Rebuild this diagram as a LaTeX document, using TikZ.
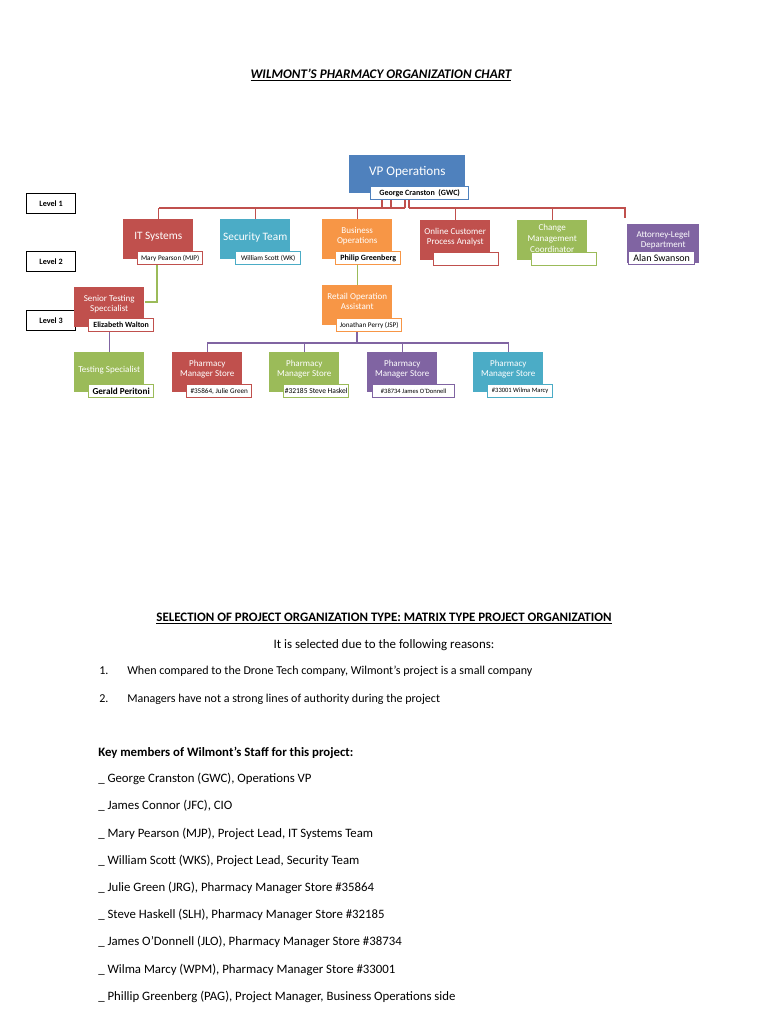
\documentclass[tikz,border=0pt]{standalone}
\usepackage{fontspec}
\setmainfont{Carlito}
\definecolor{cred}{HTML}{C0504D}
\definecolor{cblue}{HTML}{4F81BD}
\definecolor{cteal}{HTML}{4BACC6}
\definecolor{corange}{HTML}{F79646}
\definecolor{cgreen}{HTML}{9BBB59}
\definecolor{cpurple}{HTML}{8064A2}
\def\u{0.797pt}
\tikzset{
  box/.style={fill=#1, anchor=north west, minimum width=70*\u, minimum height=40*\u,
    text=white, align=center, inner sep=1pt, font=\fontsize{7.2}{8.4}\selectfont},
  sub/.style={draw=#1, fill=white, line width=1.1pt, anchor=north west, minimum width=65*\u,
    minimum height=13*\u, inner sep=0.5pt, font=\fontsize{5.7}{6}\selectfont},
  lvl/.style={draw=black, line width=0.8pt, fill=white, anchor=north west, minimum width=49*\u,
    minimum height=20*\u, inner sep=0pt, font=\bfseries\fontsize{6.5}{7}\selectfont},
  rl/.style={draw=cred, line width=1.1pt},
  gl/.style={draw=cgreen, line width=1.1pt},
  pl/.style={draw=cpurple, line width=1.1pt},
  txt/.style={anchor=base west, inner sep=0pt, font=\fontsize{10.2}{12}\selectfont},
  ctxt/.style={anchor=base, inner sep=0pt, font=\fontsize{10.3}{12}\selectfont}
}
\begin{document}
\begin{tikzpicture}[x=0.797pt,y=-0.797pt]
\useasboundingbox (0,0) rectangle (768,1024);
\fill[white] (0,0) rectangle (768,1024);

\node[ctxt, font=\fontsize{10.5}{12}\selectfont] (title) at (381,78) {\bfseries\itshape\underline{WILMONT’S PHARMACY ORGANIZATION CHART}};

% level labels
\node[lvl] (l1) at (26,193) {Level 1};
\node[lvl] (l2) at (26,251) {Level 2};
\node[lvl] (l3) at (26,310) {Level 3};

% VP
\node[box=cblue, minimum width=116*\u, minimum height=38*\u, font=\fontsize{10.5}{12}\selectfont, text depth=6pt] (vp) at (349,155) {VP Operations};
\node[sub=cblue, minimum width=98*\u, font=\bfseries\fontsize{6.4}{7}\selectfont] (vpn) at (370,186) {George Cranston\ \ (GWC)};

% level 2
\node[box=cred, font=\fontsize{9}{10}\selectfont, text depth=5pt] (it) at (123,219) {IT Systems};
\node[sub=cred] (itn) at (137,251) {Mary Pearson (MJP)};
\node[box=cteal, font=\fontsize{9}{10}\selectfont, text depth=5pt] (sec) at (220,219) {Security Team};
\node[sub=cteal] (secn) at (235,251) {William Scott (WK)};
\node[box=corange, text depth=6pt] (bus) at (322,219) {Business\\Operations};
\node[sub=corange, font=\bfseries\fontsize{6.4}{7}\selectfont] (busn) at (335,251) {Philip Greenberg};
\node[box=cred, text depth=6pt] (onl) at (420,220) {Online Customer\\Process Analyst};
\node[sub=cred] (onln) at (433,252) {};
\node[box=cgreen, text depth=3pt, font=\fontsize{7.2}{8.8}\selectfont] (chg) at (517,220) {Change\\Management\\Coordinator};
\node[sub=cgreen] (chgn) at (531,252) {};
\node[box=cpurple, minimum width=72*\u, minimum height=39*\u, text depth=7pt] (att) at (627,224) {Attorney-Legel\\Department};
\node[sub=cpurple, minimum width=66*\u, font=\fontsize{8}{8}\selectfont] (attn) at (628,251) {Alan Swanson};

% level 3
\node[box=cred, text depth=6pt] (sts) at (74,287) {Senior Testing\\Speccialist};
\node[sub=cred, font=\bfseries\fontsize{6.3}{7}\selectfont] (stsn) at (88,318) {Elizabeth Walton};
\node[box=corange, text depth=6pt] (ret) at (322,285) {Retail Operation\\Assistant};
\node[sub=corange] (retn) at (336,318) {Jonathan Perry (JSP)};

% level 4
\node[box=cgreen, text depth=5pt] (ts) at (74,352) {Testing Specialist};
\node[sub=cgreen, font=\bfseries\fontsize{7.3}{8}\selectfont] (tsn) at (88,384) {Gerald Peritoni};
\node[box=cred, text depth=6pt] (p1) at (172,352) {Pharmacy\\Manager Store};
\node[sub=cred] (p1n) at (186,384) {\#35864, Julie Green};
\node[box=cgreen, text depth=6pt] (p2) at (269,352) {Pharmacy\\Manager Store};
\node[sub=cgreen, font=\fontsize{6}{6}\selectfont] (p2n) at (283,384) {\#32185 Steve Haskel};
\node[box=cpurple, text depth=6pt] (p3) at (367,352) {Pharmacy\\Manager Store};
\node[sub=cpurple, minimum width=82*\u, font=\fontsize{5.2}{6}\selectfont] (p3n) at (372,384) {\#38734 James O’Donnell};
\node[box=cteal, text depth=6pt] (p4) at (473,352) {Pharmacy\\Manager Store};
\node[sub=cteal, font=\fontsize{5.2}{6}\selectfont] (p4n) at (487,384) {\#33001 Wilma Marcy};

% VP connectors
\coordinate (busL) at (159,208);
\coordinate (busR) at (625,208);
\coordinate (attd) at (625,218);
\draw[rl] (busL) -- (405,208);
\draw[rl] (409,208) -- (busR) -- (attd);
\foreach \xx in {382,391,405,409} \draw[rl] (vpn.south -| \xx,0) -- (\xx,208);
\draw[rl] (it.north) -- (it.north |- busL);
\draw[rl] (sec.north) -- (sec.north |- busL);
\draw[rl] (bus.north) -- (bus.north |- busL);
\draw[rl] (onl.north) -- (onl.north |- busL);
\draw[rl] (chg.north) -- (chg.north |- busL);

% green connectors
\draw[gl] (itn.south -| 157,0) |- (sts.east |- 0,302);
\draw[gl] (busn.south -| bus.north) -- (ret.north);

% purple connectors
\draw[pl] (stsn.south -| ts.north) -- (ts.north);
\coordinate (pb) at (357,343);
\draw[pl] (retn.south -| pb) -- (pb);
\draw[pl] (p1.north) |- (pb) -| (p4.north);
\draw[pl] (p2.north) -- (p2.north |- pb);
\draw[pl] (p3.north) -- (p3.north |- pb);

% text section
\node[ctxt] (sel) at (384,621) {\bfseries\underline{SELECTION OF PROJECT ORGANIZATION TYPE: MATRIX TYPE PROJECT ORGANIZATION}};
\node[ctxt] (why) at (384,648) {It is selected due to the following reasons:};
\node[txt, font=\fontsize{9.6}{12}\selectfont] (n1) at (99,674) {1.};
\node[txt, font=\fontsize{9.6}{12}\selectfont] (r1) at (127,674) {When compared to the Drone Tech company, Wilmont’s project is a small company};
\node[txt, font=\fontsize{9.6}{12}\selectfont] (n2) at (99,702) {2.};
\node[txt, font=\fontsize{9.6}{12}\selectfont] (r2) at (127,702) {Managers have not a strong lines of authority during the project};
\node[txt] (key) at (98,756) {\bfseries Key members of Wilmont’s Staff for this project:};
\node[txt] (k1) at (98,782) {\_ George Cranston (GWC), Operations VP};
\node[txt] (k2) at (98,809) {\_ James Connor (JFC), CIO};
\node[txt] (k3) at (98,837) {\_ Mary Pearson (MJP), Project Lead, IT Systems Team};
\node[txt] (k4) at (98,864) {\_ William Scott (WKS), Project Lead, Security Team};
\node[txt] (k5) at (98,891) {\_ Julie Green (JRG), Pharmacy Manager Store \#35864};
\node[txt] (k6) at (98,918) {\_ Steve Haskell (SLH), Pharmacy Manager Store \#32185};
\node[txt] (k7) at (98,945) {\_ James O’Donnell (JLO), Pharmacy Manager Store \#38734};
\node[txt] (k8) at (98,973) {\_ Wilma Marcy (WPM), Pharmacy Manager Store \#33001};
\node[txt] (k9) at (98,1000) {\_ Phillip Greenberg (PAG), Project Manager, Business Operations side};
\end{tikzpicture}
\end{document}
